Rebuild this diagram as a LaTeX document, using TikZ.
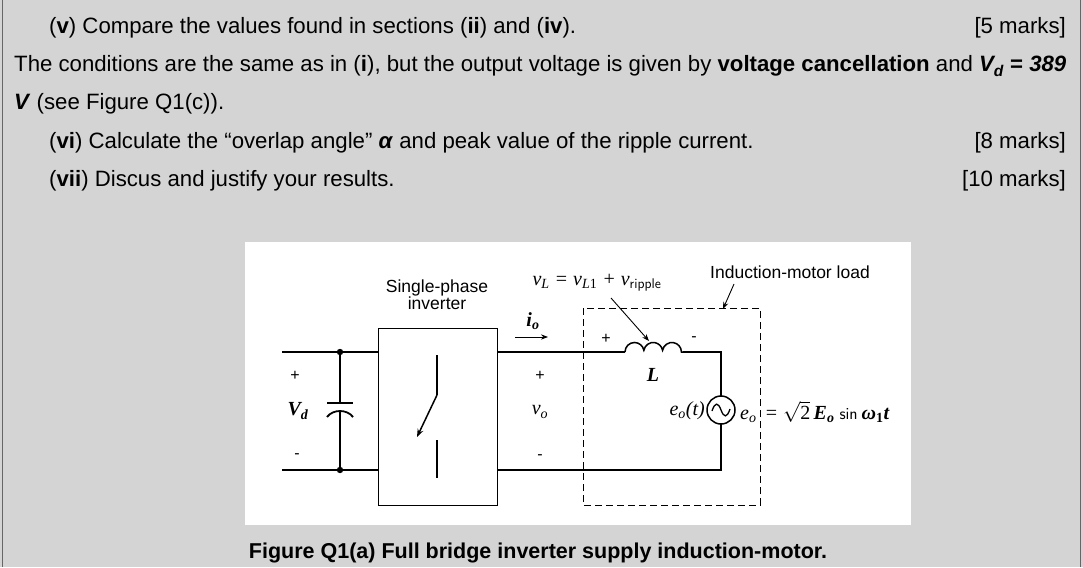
\documentclass[tikz,border=0pt]{standalone}
\usepackage{fontspec}
\setmainfont{Liberation Sans}
\newfontfamily\serifit{Liberation Serif}
\usetikzlibrary{arrows.meta}
\begin{document}
\begin{tikzpicture}[x=1pt,y=-1pt,
  txt/.style={anchor=base west,font=\fontsize{22.2}{26}\selectfont,inner sep=0},
  mk/.style={anchor=base east,font=\fontsize{22.2}{26}\selectfont,inner sep=0},
  ckt/.style={font=\fontsize{17.5}{20}\selectfont,inner sep=0},
  pm/.style={font=\fontsize{16}{18}\selectfont,inner sep=0},
  wire/.style={line width=1.8pt},
  mth/.style={font=\serifit\itshape\fontsize{20}{22}\selectfont,inner sep=0}]
\useasboundingbox (0,0) rectangle (1083,567);
\fill[black!17] (0,0) rectangle (1083,567);
\draw[black!60] (2,0) -- (2,567) (1080,0) -- (1080,567);
\fill[white] (245,242) rectangle (911,525);
% text
\node[txt] (t1) at (49,34) {(\textbf{v}) Compare the values found in sections (\textbf{ii}) and (\textbf{iv}).};
\node[mk] (m1) at (1066,34) {[5 marks]};
\node[txt] (t2) at (14,72) {The conditions are the same as in (\textbf{i}), but the output voltage is given by \textbf{voltage cancellation} and \textbf{\textit{V\textsubscript{d}} = \textit{389}}};
\node[txt] (t3) at (14,110) {\textbf{\textit{V}} (see Figure Q1(c)).};
\node[txt] (t4) at (49,148) {(\textbf{vi}) Calculate the “overlap angle” \textbf{\textit{α}} and peak value of the ripple current.};
\node[mk] (m4) at (1066,148) {[8 marks]};
\node[txt] (t5) at (49,186) {(\textbf{vii}) Discus and justify your results.};
\node[mk] (m5) at (1066,186) {[10 marks]};
\node[txt,anchor=base,font=\bfseries\fontsize{21.5}{24}\selectfont] (cap) at (538,558) {Figure Q1(a) Full bridge inverter supply induction-motor.};
% circuit
\node[draw,line width=1pt,minimum width=119pt,minimum height=177pt,inner sep=0] (inv) at (437.5,416.5) {};
\coordinate (a1) at (282,352); \coordinate (a2) at (282,470);
\coordinate (c1) at (340,352); \coordinate (c2) at (340,470);
\draw[wire] (a1) -- (inv.west|-a1) (a2) -- (inv.west|-a2);
\fill (c1) circle (3.2) (c2) circle (3.2);
\draw[line width=1.3pt] (c1) -- (340,403) (340,410) -- (c2);
\draw[line width=1.8pt] (327,403) -- (353,403);
\draw[line width=1.8pt] (327,417) .. controls (333,409) and (347,409) .. (353,417);
\coordinate (l1) at (625,352); \coordinate (l2) at (683,352);
\coordinate (r1) at (721,352); \coordinate (r2) at (721,470);
\draw[wire] (inv.east|-a1) -- (l1);
\draw[line width=1.5pt] (l1) arc (180:350:9.5) arc (190:350:9.5) arc (190:360:9.5) -- (l2);
\draw[wire] (l2) -- (r1) -- (721,396);
\node[draw,circle,line width=1.5pt,minimum size=28pt,inner sep=0] (src) at (721,410) {};
\draw[line width=1.3pt] (712,411) .. controls (715,402) and (718,402) .. (721,410) .. controls (724,418) and (727,418) .. (730,409);
\draw[wire] (721,424) -- (r2) -- (inv.east|-a2);
% switch
\draw[line width=1.5pt] (437,355) -- (437,395);
\draw[line width=1.5pt,-{Stealth[length=8pt]}] (437,395) -- (417,437);
\draw[line width=1.5pt] (437,440) -- (437,478);
% dashed box
\draw[line width=0.9pt,dash pattern=on 7pt off 4pt] (583,308) rectangle (760,505);
% labels
\node[ckt,align=center] (invl) at (437,295) {Single-phase\\[-3pt]inverter};
\node[ckt] (iml) at (790,272) {Induction-motor load};
\draw[-{Stealth[length=7pt]},line width=0.9pt] (734,284) -- (723,309);
\node[mth] (vl) at (597,283) {v\textsubscript{\itshape L} = v\textsubscript{\itshape L\upshape 1} + v\textsubscript{\sffamily\upshape ripple}};
\draw[-{Stealth[length=7pt]},line width=0.9pt] (611,298) -- (649,341);
\node[mth,font=\serifit\bfseries\itshape\fontsize{20}{22}\selectfont] (io) at (533,321) {i\textsubscript{o}};
\draw[-{Stealth[length=7pt]},line width=0.9pt] (515,337) -- (548,337);
\node[pm] at (295,376) {+}; \node[pm] at (297,456) {-};
\node[mth,font=\serifit\bfseries\itshape\fontsize{20}{22}\selectfont] at (298,411) {V\textsubscript{d}};
\node[pm] at (540,376) {+}; \node[pm] at (540,457) {-};
\node[mth] at (540,412) {v\textsubscript{o}};
\node[pm] at (606,339) {+}; \node[pm] at (694,339) {-};
\node[mth,font=\serifit\bfseries\itshape\fontsize{20}{22}\selectfont] at (653,375) {L};
\node[mth,anchor=east] at (705,411) {e\textsubscript{o}(t)};
\node[mth,anchor=west] at (740,412) {e\textsubscript{o}\hspace{8pt}=\hspace{5pt}{\fontsize{20}{22}$\sqrt{\hbox{\upshape 2}}$}\,\textbf{E\textsubscript{o}}\hspace{5pt}{\sffamily\upshape\fontsize{17}{20}\selectfont sin}\hspace{4pt}\textbf{ω\textsubscript{\upshape 1}t}};
\end{tikzpicture}
\end{document}
